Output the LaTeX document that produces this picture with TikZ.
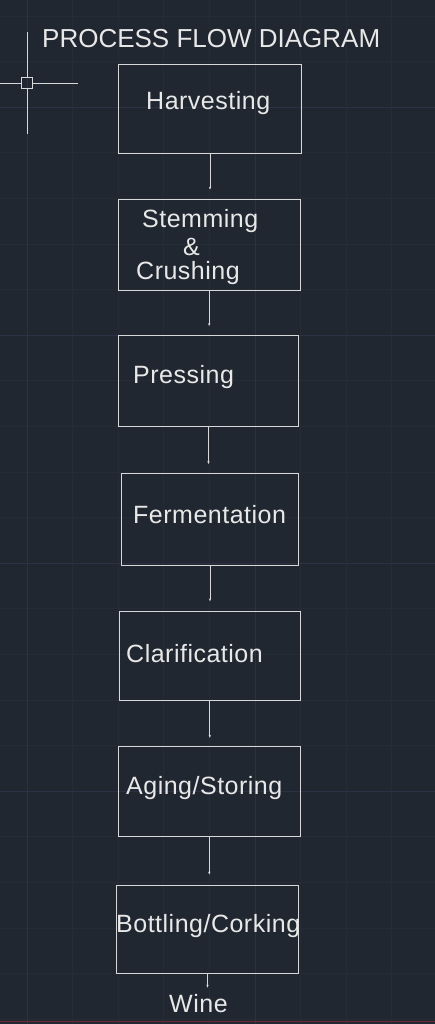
\documentclass[tikz,border=0pt]{standalone}
\usepackage{fontspec}
\setmainfont[LetterSpace=2]{Liberation Sans}
\newfontfamily\titlefont{Liberation Sans}
\usetikzlibrary{arrows.meta,fit}
\definecolor{cadbg}{HTML}{212730}
\definecolor{cadminor}{HTML}{262C36}
\definecolor{cadmajor}{HTML}{2C3243}
\definecolor{cadline}{HTML}{D6D8DA}
\definecolor{cadtext}{HTML}{E8E8E8}
\definecolor{cadaxis}{HTML}{6E2A34}
\tikzset{
	stage/.style={draw=cadline, line width=0.8pt, rectangle, inner sep=0pt},
	caption/.style={text=cadtext, inner sep=0pt, anchor=base west, font=\fontsize{25}{28}\selectfont},
	flow/.style={draw=cadline, line width=0.7pt, -{Stealth[length=3pt,width=2.4pt]}},
}

\begin{document}
\begin{tikzpicture}[x=1pt, y=-1pt]
			%%%%% START %%%%%
			
			\fill[cadbg] (0,0) rectangle (435,1024);
			\useasboundingbox (0,0) rectangle (435,1024);
			
			% grid
			\foreach \k in {0,...,8}
				\draw[cadminor, line width=0.8pt] (27+45.6*\k, 0) -- (27+45.6*\k, 1024);
			\foreach \k in {0,...,22}
				\draw[cadminor, line width=0.8pt] (0, 16+45.6*\k) -- (435, 16+45.6*\k);
			\foreach \k in {0,5}
				\draw[cadmajor, line width=1pt] (27+45.6*\k, 0) -- (27+45.6*\k, 1024);
			\foreach \k in {2,7,12,17}
				\draw[cadmajor, line width=1pt] (0, 16+45.6*\k) -- (435, 16+45.6*\k);
			\draw[cadaxis, line width=0.8pt] (0,1021.5) -- (435,1021.5);
			
			% cursor
			\draw[cadline, line width=0.8pt] (27,32) -- (27,77.5) (27,88.5) -- (27,134);
			\draw[cadline, line width=0.8pt] (0,83) -- (21.5,83) (32.5,83) -- (78,83);
			\draw[cadline, line width=0.8pt] (21.5,77.5) rectangle (32.5,88.5);
			
			\node[caption, font=\titlefont\fontsize{26}{30}\selectfont] (title) at (42,48) {PROCESS FLOW DIAGRAM};
			
			% boxes
			\node[stage, fit={(118.3,64.3) (301.7,153.3)}] (harvest) {};
			\node[stage, fit={(118.3,199.3) (300,290.7)}] (stem) {};
			\node[stage, fit={(118.3,335) (298.7,426.3)}] (press) {};
			\node[stage, fit={(121.3,473.7) (298.7,565)}] (ferment) {};
			\node[stage, fit={(119.3,611) (300.3,700)}] (clarify) {};
			\node[stage, fit={(118.3,746) (300.3,836.3)}] (aging) {};
			\node[stage, fit={(116.3,885) (298.7,973)}] (bottle) {};
			
			% texts
			\node[caption] (harvestTxt) at (146,110) {Harvesting};
			\node[caption] (stemTxt) at (142,228) {Stemming};
			\node[caption] (ampTxt) at (183,255) {\&};
			\node[caption] (crushTxt) at (136,279) {Crushing};
			\node[caption] (pressTxt) at (133,383) {Pressing};
			\node[caption] (fermentTxt) at (133,523) {Fermentation};
			\node[caption] (clarifyTxt) at (126,662) {Clarification};
			\node[caption] (agingTxt) at (126,794) {Aging/Storing};
			\node[caption] (bottleTxt) at (116,932) {Bottling/Corking};
			\node[caption] (wine) at (169,1012) {Wine};
			
			% arrows
			\draw[flow, shorten >=9.3pt] (harvest.south) -- (harvest.south |- stem.north);
			\draw[flow, shorten >=8.5pt] (stem.south) -- (stem.south |- press.north);
			\draw[flow, shorten >=9.3pt] (press.south) -- (press.south |- ferment.north);
			\draw[flow, shorten >=9.3pt] (ferment.south) -- (ferment.south |- clarify.north);
			\draw[flow, shorten >=7.8pt] (clarify.south) -- (clarify.south |- aging.north);
			\draw[flow, shorten >=10pt] (aging.south) -- (aging.south |- bottle.north);
			\draw[flow, shorten >=6pt] (bottle.south) -- (bottle.south |- wine.north);
			
			%%%%% END %%%%%
\end{tikzpicture}
\end{document}
